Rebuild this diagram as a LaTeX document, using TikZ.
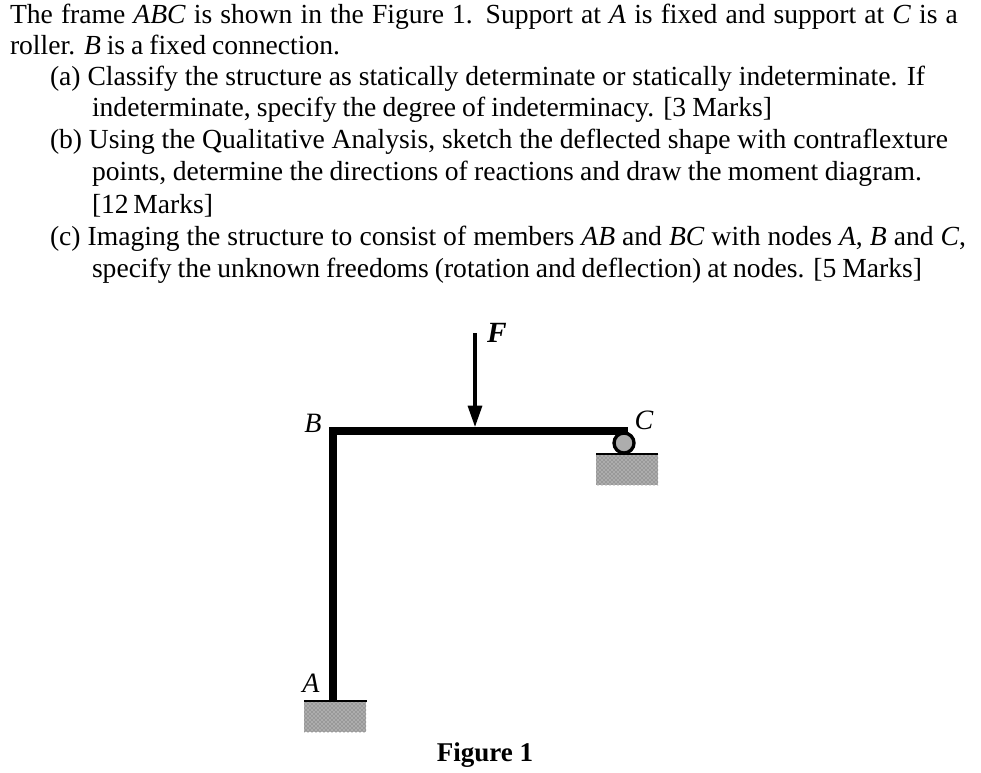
\documentclass[tikz,border=0pt]{standalone}
\usepackage{fontspec}
\setmainfont{Liberation Serif}
\usetikzlibrary{arrows.meta,patterns}
\definecolor{hatchgray}{gray}{0.68}
\definecolor{hatchdot}{gray}{0.35}
\newcommand{\fitline}[2]{\makebox[#1pt][s]{#2}}
\tikzset{
  x=0.75pt,y=-0.75pt,
  txt/.style={anchor=base west,inner sep=0pt,outer sep=0pt,font=\fontsize{20.7pt}{24pt}\selectfont},
  lbl/.style={inner sep=0pt,outer sep=0pt,font=\fontsize{21pt}{24pt}\selectfont\itshape},
  lblb/.style={inner sep=0pt,outer sep=0pt,font=\fontsize{22pt}{24pt}\selectfont\itshape\bfseries},
  member/.style={line width=6pt,line cap=butt,line join=miter},
  ground/.style={preaction={fill=hatchgray},pattern=crosshatch dots,pattern color=hatchdot},
  groundline/.style={line width=1.5pt},
  force/.style={line width=2.4pt,-{Triangle[length=16pt,width=10.5pt]}},
}
\begin{document}
\begin{tikzpicture}
\useasboundingbox (0,0) rectangle (981,772);
\node[txt] (l1) at (10,23) {\fitline{711}{The frame \textit{ABC} is shown in the Figure 1. Support at \textit{A} is fixed and support at \textit{C} is a}};
\node[txt] (l2) at (10,54) {\fitline{247.5}{roller. \textit{B} is a fixed connection.}};
\node[txt] (l3) at (50,85) {\fitline{656.25}{(a) Classify the structure as statically determinate or statically indeterminate. If}};
\node[txt] (l4) at (92,116) {\fitline{510}{indeterminate, specify the degree of indeterminacy. [3 Marks]}};
\node[txt] (l5) at (50,148) {\fitline{673.5}{(b) Using the Qualitative Analysis, sketch the deflected shape with contraflexture}};
\node[txt] (l6) at (92,180) {\fitline{622.5}{points, determine the directions of reactions and draw the moment diagram.}};
\node[txt] (l7) at (92,213) {\fitline{90.75}{[12 Marks]}};
\node[txt] (l8) at (50,245) {\fitline{687}{(c) Imaging the structure to consist of members \textit{AB} and \textit{BC} with nodes \textit{A}, \textit{B} and \textit{C},}};
\node[txt] (l9) at (92,277) {\fitline{622.5}{specify the unknown freedoms (rotation and deflection) at nodes. [5 Marks]}};

\coordinate (A) at (333,700);
\coordinate (B) at (333,431);
\coordinate (C) at (628,431);
\coordinate (Fm) at (475,427);
\coordinate (Ft) at (475,333);

\fill[ground] (304,702) rectangle (366,732);
\draw[groundline] (304,700.5) -- (367,700.5);
\fill[ground] (596,454) rectangle (658,485);
\draw[groundline] (596,453.5) -- (658,453.5);
\draw[line width=2.5pt,fill=hatchgray] (624,443) circle (10);
\draw[member] (A) -- (B) -- (C);
\draw[force] (Ft) -- (Fm);

\node[lblb] (F) at (497,333) {F};
\node[lbl] (Bl) at (313,423) {B};
\node[lbl] (Cl) at (644,420) {C};
\node[lbl] (Al) at (311,683) {A};
\node[inner sep=0pt,font=\fontsize{20.3pt}{24pt}\selectfont\bfseries] (fig) at (485,755) {Figure 1};
\end{tikzpicture}
\end{document}
